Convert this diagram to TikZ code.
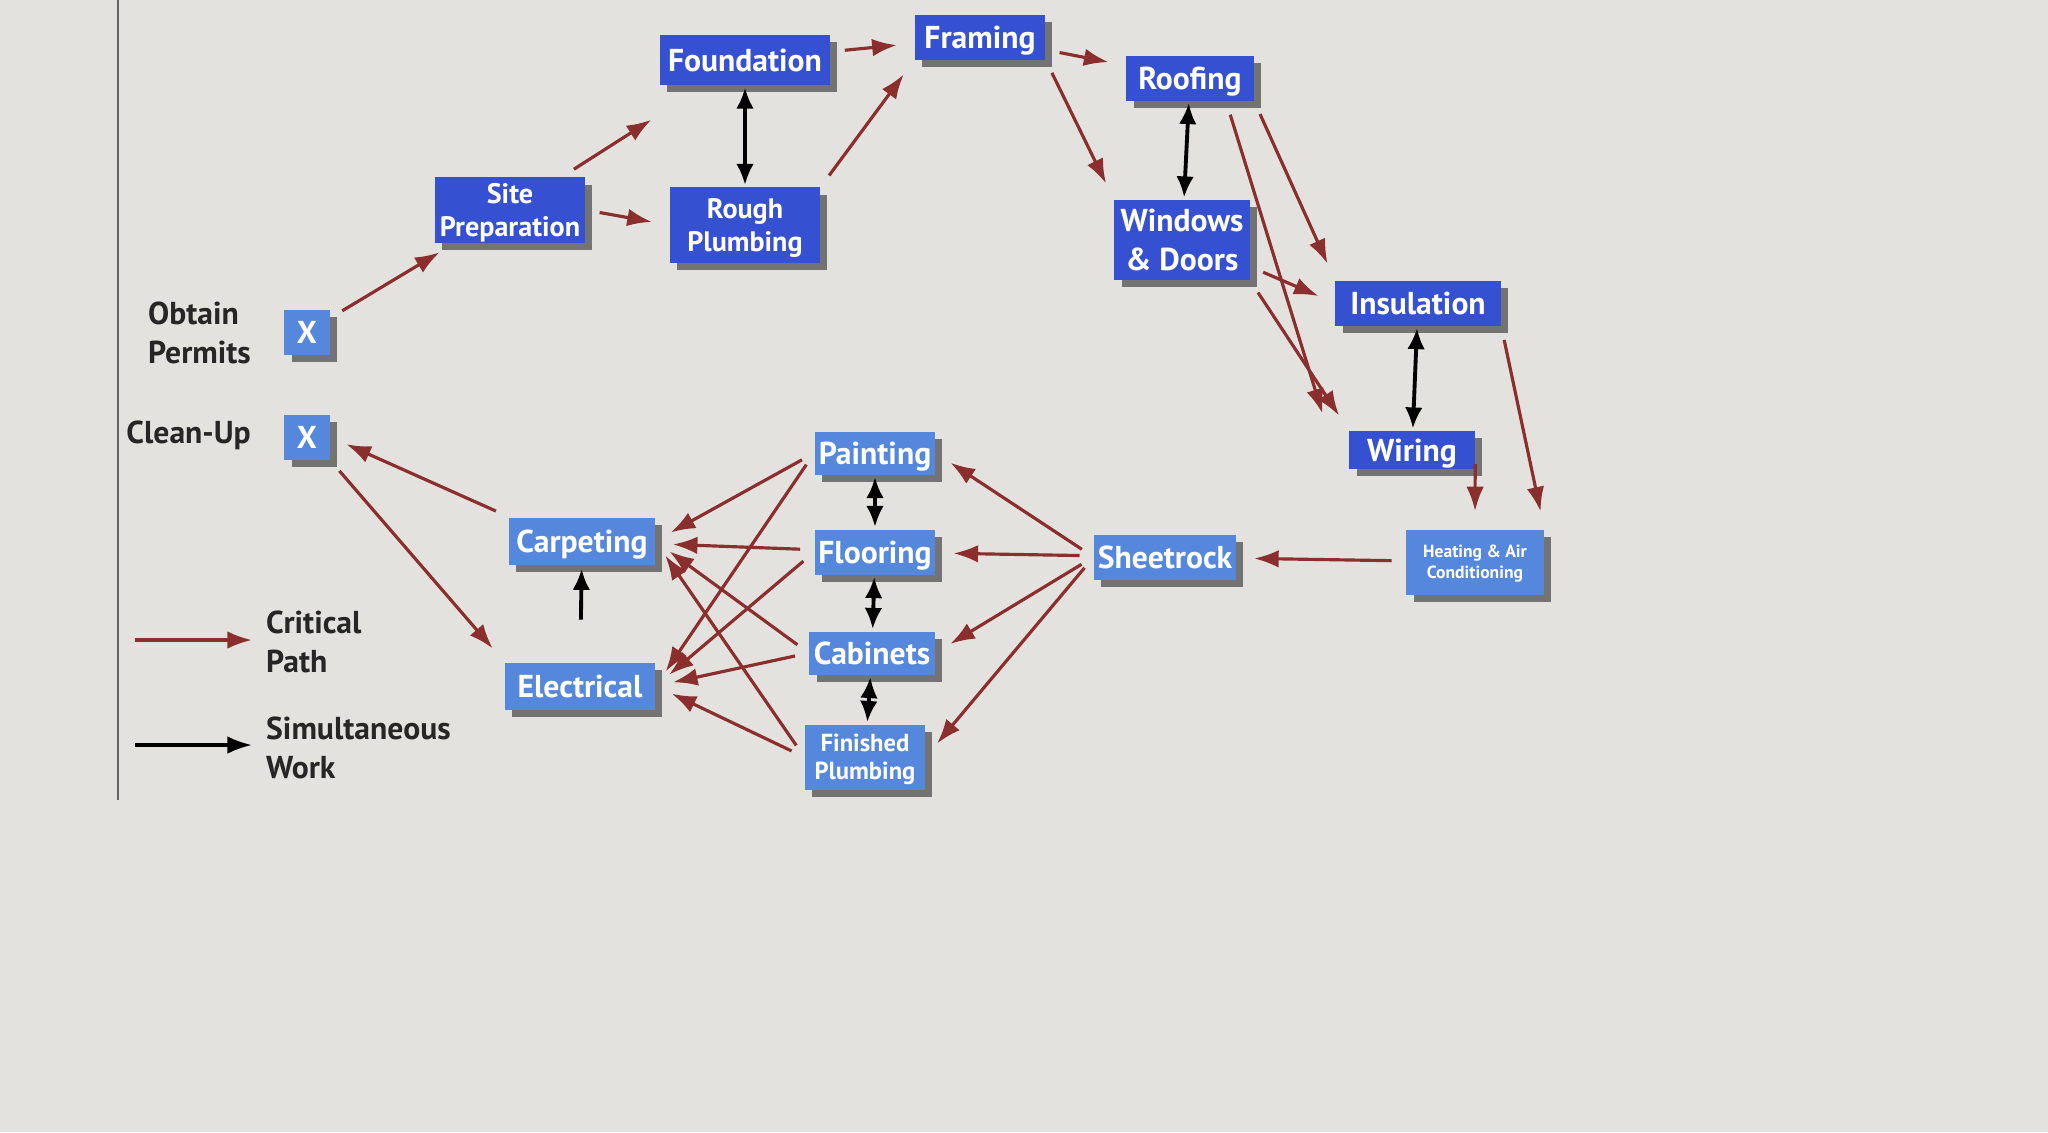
\documentclass[tikz,border=0pt]{standalone}
\usepackage{fontspec}
\setmainfont{PT Sans}
\usetikzlibrary{arrows.meta,shadows}
\definecolor{bgc}{HTML}{E4E2DE}
\definecolor{boxA}{HTML}{3550D0}
\definecolor{boxB}{HTML}{5588DD}
\definecolor{crit}{HTML}{8A2E2E}
\begin{document}
\begin{tikzpicture}[x=0.01cm,y=-0.01cm,
  box/.style={draw=none,fill=boxA,text=white,font=\bfseries\small,align=center,inner sep=1pt,
     general shadow={fill=black!55,shadow xshift=2pt,shadow yshift=-2pt},minimum height=0.45cm,
     text depth=0pt},
  lbox/.style={box,fill=boxB},
  cp/.style={crit,line width=0.9pt,-{Latex[length=7pt,width=5pt]},shorten >=5pt,shorten <=4pt},
  sw/.style={black,line width=1.1pt,{Latex[length=6pt,width=5pt]}-{Latex[length=6pt,width=5pt]},shorten >=0.5pt,shorten <=0.5pt},
  lab/.style={font=\bfseries\small,align=left,text=black!85,inner sep=1pt}]
\useasboundingbox (0,0) rectangle (2048,1132);
\fill[bgc] (0,0) rectangle (2048,1132);
\draw[black!60,line width=0.8pt] (118,0) -- (118,800);
% nodes
\node[box,minimum width=1.7cm,minimum height=0.5cm] (found) at (745,60) {Foundation};
\node[box,minimum width=1.3cm] (fram) at (980,37) {Framing};
\node[box,minimum width=1.27cm] (roof) at (1190,78) {Roofing};
\node[box,minimum width=1.5cm,minimum height=0.65cm,font=\bfseries\footnotesize] (site) at (510,210) {Site\\Preparation};
\node[box,minimum width=1.5cm,minimum height=0.75cm,font=\bfseries\footnotesize] (rough) at (745,225) {Rough\\Plumbing};
\node[box,minimum width=1.35cm,minimum height=0.8cm] (wind) at (1182,240) {Windows\\\& Doors};
\node[box,minimum width=1.65cm] (insu) at (1418,303) {Insulation};
\node[box,minimum width=1.25cm,minimum height=0.38cm] (wir) at (1412,450) {Wiring};
\node[lbox,minimum width=1.37cm,minimum height=0.65cm,font=\bfseries\tiny] (heat) at (1475,562) {Heating \& Air\\Conditioning};
\node[lbox,minimum width=1.4cm] (sheet) at (1165,557) {Sheetrock};
\node[lbox,minimum width=1.2cm,minimum height=0.43cm] (paint) at (875,453) {Painting};
\node[lbox,minimum width=1.2cm] (floor) at (875,552) {Flooring};
\node[lbox,minimum width=1.25cm,minimum height=0.43cm] (cab) at (872,653) {Cabinets};
\node[lbox,minimum width=1.2cm,minimum height=0.65cm,font=\bfseries\scriptsize] (fin) at (865,757) {Finished\\Plumbing};
\node[lbox,minimum width=1.45cm,minimum height=0.47cm] (carp) at (582,541) {Carpeting};
\node[lbox,minimum width=1.5cm,minimum height=0.47cm] (elec) at (580,686) {Electrical};
\node[box,minimum width=0.45cm,fill=boxB] (perm) at (307,332) {X};
\node[box,minimum width=0.45cm,fill=boxB] (clean) at (307,437) {X};
\node[lab,align=left,anchor=east] (tperm) at (255,333) {Obtain\\Permits};
\node[lab,anchor=east] (tclean) at (255,435) {Clean-Up};
% legend
\coordinate (c1) at (135,640); \coordinate (c2) at (252,640);
\coordinate (s1) at (135,745); \coordinate (s2) at (252,745);
\draw[crit,line width=0.9pt,-{Latex[length=7pt,width=5pt]}] (c1) -- (c2);
\draw[black,line width=0.9pt,-{Latex[length=7pt,width=5pt]}] (s1) -- (s2);
\node[lab,anchor=west] (tcrit) at (262,642) {Critical\\Path};
\node[lab,anchor=west] (tsim) at (262,748) {Simultaneous\\Work};
% critical path
\draw[cp] (perm) -- (site);
\draw[cp,shorten >=18pt] (site) -- (found);
\draw[cp] (site.east) -- (rough.west);
\draw[sw] (found) -- (rough);
\draw[cp] (found) -- (fram);
\draw[cp] (rough.north east) -- (fram.south west);
\draw[cp] (fram) -- (roof);
\draw[cp] (fram.south east) -- (wind.north west);
\draw[sw] (roof) -- (wind);
\draw[cp] (roof.south east) -- (insu.north west);
\draw[cp] ([xshift=-8pt]roof.south east) -- ([xshift=-6pt]wir.north west);
\draw[cp] ([yshift=4pt]wind.south east) -- (insu.west);
\draw[cp] (wind.south east) -- (wir.north west);
\draw[sw] (insu) -- (wir);
\draw[cp] (insu.south east) -- (heat.north east);
\draw[cp] (wir.east) -- (heat.north);
\draw[cp] (heat) -- (sheet);
\draw[cp] (sheet.west) -- (paint.east);
\draw[cp] (sheet) -- (floor);
\draw[cp] (sheet.west) -- (cab.east);
\draw[cp] (sheet.west) -- (fin.east);
\draw[sw] (paint) -- (floor);
\draw[sw] (floor) -- (cab);
\draw[sw] (cab) -- (fin);
\draw[cp] (paint.west) -- (carp.east);
\draw[cp] (paint.west) -- (elec.east);
\draw[cp] (floor) -- (carp);
\draw[cp] (floor.west) -- (elec.east);
\draw[cp] (cab.west) -- (carp.east);
\draw[cp] (cab.west) -- (elec.east);
\draw[cp] (fin.west) -- (carp.east);
\draw[cp] (fin.west) -- (elec.east);
\draw[cp] (carp.north west) -- (clean.east);
\draw[cp] (clean.south east) -- (elec.north west);
\draw[black,line width=1.1pt,-{Latex[length=6pt,width=5pt]},shorten >=1pt,shorten <=12pt] (elec) -- (carp);
\end{tikzpicture}
\end{document}
